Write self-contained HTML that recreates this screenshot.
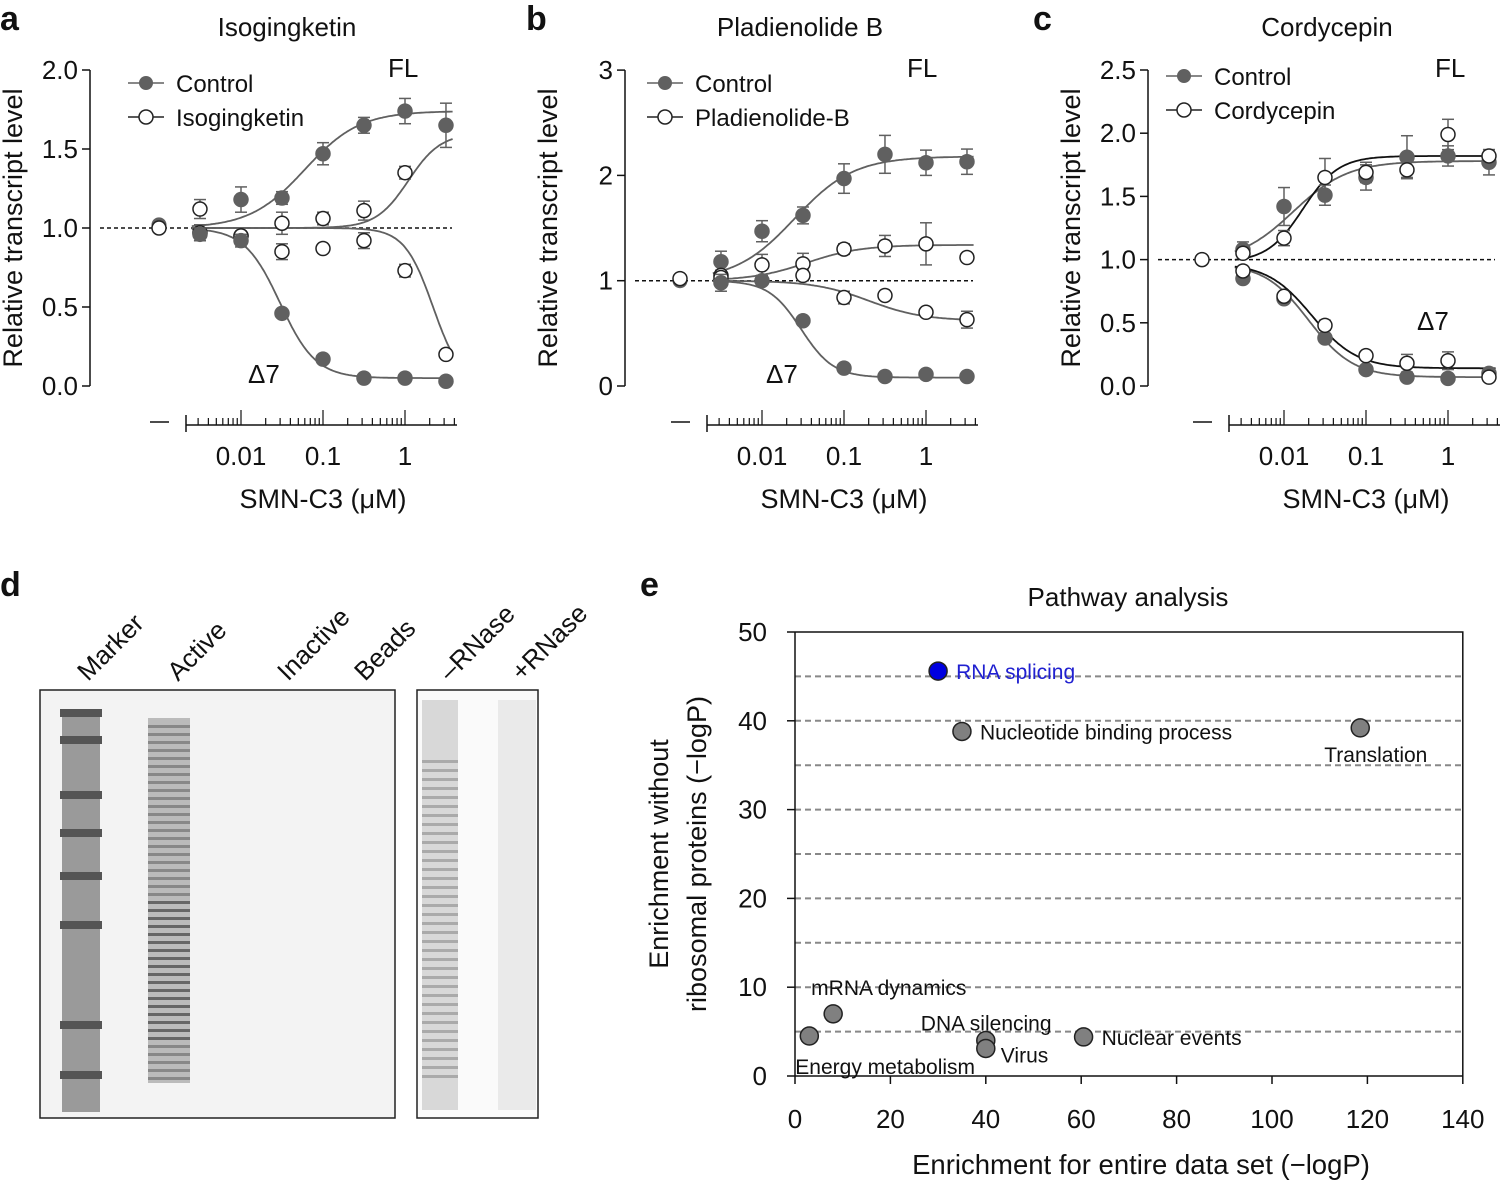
<!DOCTYPE html>
<html><head><meta charset="utf-8">
<style>
html,body{margin:0;padding:0;background:#fff;}
svg{display:block;font-family:"Liberation Sans",Arial,sans-serif;}
</style></head>
<body>
<svg id="fig" width="1500" height="1181" viewBox="0 0 1500 1181" xmlns="http://www.w3.org/2000/svg">
<g id="gel"></g>
</svg>
<script>
// ---------- DATA ----------
const doses = [0.00316, 0.01, 0.0316, 0.1, 0.316, 1, 3.16];
// Panel a
const aCtrlFL = [0.97, 1.18, 1.19, 1.47, 1.65, 1.74, 1.65];
const aCtrlFLerr = [0.05, 0.08, 0.04, 0.07, 0.05, 0.08, 0.14];
const aDrugFL = [1.12, 0.95, 1.03, 1.06, 1.11, 1.35, null];
const aDrugFLerr = [0.06, 0.03, 0.07, 0.04, 0.06, 0.04, 0];
const aDrugD7 = [0.97, 0.95, 0.85, 0.87, 0.92, 0.73, 0.2];
const aDrugD7err = [0.05, 0.02, 0.05, 0.02, 0.05, 0.04, 0];
const aCtrlD7 = [0.96, 0.92, 0.46, 0.17, 0.05, 0.05, 0.03];
const aCtrlD7err = [0.04, 0.04, 0.02, 0.02, 0.01, 0.01, 0.01];
const aBase = [1.02, 1.0];
// Panel b
const bCtrlFL = [1.18, 1.47, 1.62, 1.97, 2.2, 2.12, 2.13];
const bCtrlFLerr = [0.1, 0.1, 0.08, 0.14, 0.18, 0.12, 0.12];
const bDrugFL = [1.05, 1.15, 1.16, 1.3, 1.33, 1.35, 1.22];
const bDrugFLerr = [0.05, 0.1, 0.1, 0.05, 0.1, 0.2, 0.04];
const bDrugD7 = [1.03, null, 1.05, 0.84, 0.86, 0.7, 0.63];
const bDrugD7err = [0.03, 0, 0.05, 0.06, 0.03, 0.03, 0.08];
const bCtrlD7 = [0.98, 1.0, 0.62, 0.17, 0.09, 0.11, 0.09];
const bCtrlD7err = [0.08, 0.03, 0.02, 0.02, 0.02, 0.02, 0.02];
const bBase = [1.0, 1.02];
// Panel c
const cCtrlFL = [1.08, 1.42, 1.51, 1.65, 1.81, 1.82, 1.77];
const cCtrlFLerr = [0.06, 0.15, 0.08, 0.1, 0.17, 0.08, 0.1];
const cDrugFL = [1.05, 1.17, 1.65, 1.69, 1.71, 1.99, 1.82];
const cDrugFLerr = [0.04, 0.06, 0.15, 0.08, 0.06, 0.12, 0.05];
const cCtrlD7 = [0.85, 0.69, 0.38, 0.13, 0.07, 0.06, 0.1];
const cCtrlD7err = [0.02, 0.02, 0.02, 0.02, 0.02, 0.02, 0.03];
const cDrugD7 = [0.91, 0.71, 0.48, 0.24, 0.18, 0.2, 0.07];
const cDrugD7err = [0.03, 0.02, 0.04, 0.03, 0.07, 0.07, 0.03];
const cBase = [1.0, 1.0];
// Panel e
const pathNames = ["RNA splicing","Nucleotide binding process","Translation","mRNA dynamics","Energy metabolism","DNA silencing","Virus","Nuclear events"];
const pathX = [30, 35, 118.5, 8, 3, 40, 40, 60.5];
const pathY = [45.6, 38.8, 39.2, 7, 4.5, 4, 3.1, 4.4];
const eXTicks = [0,20,40,60,80,100,120,140];
const eYTicks = [0,10,20,30,40,50];
const eGrid = [5,10,15,20,25,30,35,40,45];

// ---------- HELPERS ----------
const NS = "http://www.w3.org/2000/svg";
const svg = document.getElementById('fig');
function mk(tag, attrs, parent, name){
  const e = document.createElementNS(NS, tag);
  for (const k in attrs) e.setAttribute(k, attrs[k]);
  
  
  (parent||svg).appendChild(e);
  return e;
}
function txt(x,y,s,size,parent,name,extra){
  const a = Object.assign({x:x,y:y,'font-size':size,fill:'#111'}, extra||{});
  const t = mk('text', a, parent, name);
  t.textContent = s;
  return t;
}
const GRAY = '#606060';
function hill(x, b, t, ec, h){ return b + (t-b)/(1+Math.pow(ec/x, h)); }

function panel(cfg){
  const g = mk('g', {}, svg, cfg.name);
  const X = v => cfg.x01 + (Math.log10(v)+2)*82;
  const Y = v => cfg.y0 - v*cfg.ppu;
  mk('line',{x1:cfg.yax,y1:Y(cfg.ymax),x2:cfg.yax,y2:Y(0),stroke:'#111','stroke-width':1.5},g,'y-axis');
  cfg.yticks.forEach((v,i)=>{
    mk('line',{x1:cfg.yax-8,y1:Y(v),x2:cfg.yax,y2:Y(v),stroke:'#111','stroke-width':1.5},g,'y-tick');
    txt(cfg.yax-12,Y(v)+9,cfg.ylabels[i],26,g,'y-tick-label',{'text-anchor':'end'});
  });
  txt(0,0,'Relative transcript level',27,g,'y-axis-title',{'text-anchor':'middle',transform:`translate(${cfg.yax-68},228) rotate(-90)`});
  const xa0 = cfg.x01-55, xa1 = cfg.x01+216;
  mk('line',{x1:xa0,y1:425,x2:xa1,y2:425,stroke:'#111','stroke-width':1.5},g,'x-axis');
  mk('line',{x1:xa0,y1:415,x2:xa0,y2:432,stroke:'#111','stroke-width':1.5},g,'x-axis-start');
  mk('line',{x1:cfg.x01-91,y1:422,x2:cfg.x01-72,y2:422,stroke:'#111','stroke-width':1.5},g,'control-dose-mark');
  for (let d=-3; d<=0; d++){
    for (let m=1; m<10; m++){
      const v = m*Math.pow(10,d); const px = X(v);
      if (px<xa0||px>xa1) continue;
      const major = (m===1 && d>=-2);
      mk('line',{x1:px,y1:425,x2:px,y2:major?410:418,stroke:'#111','stroke-width':1.2},g,major?'x-major-tick':'x-minor-tick');
    }
  }
  [['0.01',0.01],['0.1',0.1],['1',1]].forEach(p=>txt(X(p[1]),465,p[0],26,g,'x-tick-label',{'text-anchor':'middle'}));
  txt(X(0.1),508,'SMN-C3 (\u03bcM)',27,g,'x-axis-title',{'text-anchor':'middle'});
  mk('line',{x1:cfg.yax+10,y1:Y(1),x2:xa1-5,y2:Y(1),stroke:'#111','stroke-width':1.5,'stroke-dasharray':'4,3'},g,'baseline-dashed');
  cfg.curves.forEach(c=>{
    let d='';
    for (let l=-2.6; l<=0.6; l+=0.02){ const v=Math.pow(10,l); d += (d?'L':'M')+X(v).toFixed(1)+','+Y(hill(v,c[0],c[1],c[2],c[3])).toFixed(1); }
    mk('path',{d:d,fill:'none',stroke:c[4],'stroke-width':1.8},g,'fit-curve');
  });
  const bx = cfg.x01-82;
  cfg.series.forEach(s=>{
    s.vals.forEach((v,i)=>{
      if (v===null) return;
      const px = X(doses[i]), py = Y(v), e = s.err[i]*cfg.ppu;
      if (e>3){
        mk('line',{x1:px,y1:py-e,x2:px,y2:py+e,stroke:GRAY,'stroke-width':1.5},g,'error-bar');
        mk('line',{x1:px-6,y1:py-e,x2:px+6,y2:py-e,stroke:GRAY,'stroke-width':1.5},g,'error-cap');
        mk('line',{x1:px-6,y1:py+e,x2:px+6,y2:py+e,stroke:GRAY,'stroke-width':1.5},g,'error-cap');
      }
      mk('circle',{cx:px,cy:py,r:7,fill:s.filled?GRAY:'#fff',stroke:s.filled?GRAY:'#222','stroke-width':1.5},g,s.name);
    });
  });
  mk('circle',{cx:bx,cy:Y(cfg.base[0]),r:7,fill:GRAY,stroke:GRAY},g,'control-baseline-point');
  mk('circle',{cx:bx,cy:Y(cfg.base[1]),r:7,fill:'#fff',stroke:'#222','stroke-width':1.5},g,'drug-baseline-point');
  const lx = cfg.legx, ly = cfg.legy;
  mk('line',{x1:lx,y1:ly,x2:lx+36,y2:ly,stroke:GRAY,'stroke-width':1.5},g,'legend-line-control');
  mk('circle',{cx:lx+18,cy:ly,r:7,fill:GRAY},g,'legend-marker-control');
  txt(lx+48,ly+9,'Control',24,g,'legend-label-control');
  mk('line',{x1:lx,y1:ly+34,x2:lx+36,y2:ly+34,stroke:'#222','stroke-width':1.5},g,'legend-line-drug');
  mk('circle',{cx:lx+18,cy:ly+34,r:7,fill:'#fff',stroke:'#222','stroke-width':1.5},g,'legend-marker-drug');
  txt(lx+48,ly+43,cfg.drug,24,g,'legend-label-drug');
  txt(cfg.flx,77,'FL',26,g,'fl-label');
  txt(cfg.d7x,cfg.d7y,'\u03947',26,g,'delta7-label');
  txt(cfg.titlex,36,cfg.title,26,g,'panel-title',{'text-anchor':'middle'});
  txt(cfg.letx,30,cfg.letter,34,g,'panel-letter',{'font-weight':'bold'});
}

panel({name:'panel-a',letter:'a',letx:0,title:'Isogingketin',titlex:287,drug:'Isogingketin',x01:241,yax:90,y0:386,ppu:158,ymax:2,
  yticks:[0,0.5,1,1.5,2],ylabels:['0.0','0.5','1.0','1.5','2.0'],base:aBase,legx:128,legy:83,flx:388,d7x:248,d7y:383,
  curves:[[1,1.74,0.06,1.3,GRAY],[1,1.6,1.1,2.2,GRAY],[1,0,2.2,2.5,GRAY],[1,0.05,0.03,2,GRAY]],
  series:[{name:'control-fl-point',vals:aCtrlFL,err:aCtrlFLerr,filled:true},{name:'isogingketin-fl-point',vals:aDrugFL,err:aDrugFLerr,filled:false},
          {name:'isogingketin-d7-point',vals:aDrugD7,err:aDrugD7err,filled:false},{name:'control-d7-point',vals:aCtrlD7,err:aCtrlD7err,filled:true}]});
panel({name:'panel-b',letter:'b',letx:526,title:'Pladienolide B',titlex:800,drug:'Pladienolide-B',x01:762,yax:625,y0:386,ppu:105.3,ymax:3,
  yticks:[0,1,2,3],ylabels:['0','1','2','3'],base:bBase,legx:647,legy:83,flx:907,d7x:766,d7y:383,
  curves:[[1,2.18,0.025,1.2,GRAY],[1,1.34,0.035,1.3,GRAY],[1,0.62,0.2,1.3,GRAY],[1,0.08,0.03,2.2,GRAY]],
  series:[{name:'control-fl-point',vals:bCtrlFL,err:bCtrlFLerr,filled:true},{name:'pladienolide-fl-point',vals:bDrugFL,err:bDrugFLerr,filled:false},
          {name:'pladienolide-d7-point',vals:bDrugD7,err:bDrugD7err,filled:false},{name:'control-d7-point',vals:bCtrlD7,err:bCtrlD7err,filled:true}]});
panel({name:'panel-c',letter:'c',letx:1033,title:'Cordycepin',titlex:1327,drug:'Cordycepin',x01:1284,yax:1148,y0:386,ppu:126.4,ymax:2.5,
  yticks:[0,0.5,1,1.5,2,2.5],ylabels:['0.0','0.5','1.0','1.5','2.0','2.5'],base:cBase,legx:1166,legy:76,flx:1435,d7x:1417,d7y:330,
  curves:[[0.98,1.78,0.013,1.3,GRAY],[0.98,1.82,0.017,2,'#111'],[0.97,0.07,0.02,1.6,GRAY],[0.97,0.14,0.022,1.6,'#111']],
  series:[{name:'control-fl-point',vals:cCtrlFL,err:cCtrlFLerr,filled:true},{name:'cordycepin-fl-point',vals:cDrugFL,err:cDrugFLerr,filled:false},
          {name:'control-d7-point',vals:cCtrlD7,err:cCtrlD7err,filled:true},{name:'cordycepin-d7-point',vals:cDrugD7,err:cDrugD7err,filled:false}]});

// ---------- PANEL D (gel) ----------
const gel = document.getElementById('gel');
txt(0,596,'d',34,gel,'panel-letter',{'font-weight':'bold'});
[['Marker',88],['Active',178],['Inactive',288],['Beads',365],['\u2013RNase',450],['+RNase',522]].forEach(l=>{
  txt(0,0,l[0],26,gel,'lane-label',{transform:`translate(${l[1]},682) rotate(-45)`});
});
mk('rect',{x:40,y:690,width:355,height:428,fill:'#f3f3f3',stroke:'#222','stroke-width':1.5},gel,'gel-box-left');
mk('rect',{x:417,y:690,width:121,height:428,fill:'#fafafa',stroke:'#222','stroke-width':1.5},gel,'gel-box-right');
mk('rect',{x:62,y:712,width:38,height:400,fill:'#9a9a9a'},gel,'marker-lane');
[713,740,795,833,876,925,1025,1075].forEach(y=>mk('rect',{x:60,y:y-4,width:42,height:8,fill:'#555'},gel,'marker-band'));
mk('rect',{x:148,y:718,width:42,height:365,fill:'#bbb'},gel,'active-lane');
for(let y=725;y<1080;y+=8){ mk('rect',{x:148,y:y,width:42,height:3,fill:(y>900&&y<1040)?'#666':'#888'},gel,'active-band'); }
mk('rect',{x:422,y:700,width:36,height:410,fill:'#d8d8d8'},gel,'minus-rnase-lane');
for(let y=760;y<1080;y+=9){ mk('rect',{x:422,y:y,width:36,height:3,fill:'#aaa'},gel,'minus-rnase-band'); }
mk('rect',{x:498,y:700,width:38,height:410,fill:'#eaeaea'},gel,'plus-rnase-lane');

// ---------- PANEL E ----------
const ge = mk('g',{},svg,'panel-e');
const EX = v => 795 + v*4.77;
const EY = v => 1076 - v*8.88;
txt(640,596,'e',34,ge,'panel-letter',{'font-weight':'bold'});
txt(1128,606,'Pathway analysis',26,ge,'chart-title',{'text-anchor':'middle'});
eGrid.forEach(v=>mk('line',{x1:EX(0),y1:EY(v),x2:EX(140),y2:EY(v),stroke:'#888','stroke-width':2,'stroke-dasharray':'6,4'},ge,'grid-line'));
mk('path',{d:`M${EX(0)},${EY(50)}H${EX(140)}V${EY(0)}`,fill:'none',stroke:'#111','stroke-width':1.5},ge,'plot-frame');
mk('line',{x1:EX(0),y1:EY(50),x2:EX(0),y2:EY(0),stroke:'#111','stroke-width':1.5},ge,'y-axis');
mk('line',{x1:EX(0),y1:EY(0),x2:EX(140),y2:EY(0),stroke:'#111','stroke-width':1.5},ge,'x-axis');
eXTicks.forEach(v=>{
  mk('line',{x1:EX(v),y1:EY(0),x2:EX(v),y2:EY(0)+8,stroke:'#111','stroke-width':1.5},ge,'x-tick');
  txt(EX(v),EY(0)+52,String(v),26,ge,'x-tick-label',{'text-anchor':'middle'});
});
eYTicks.forEach(v=>{
  mk('line',{x1:EX(0)-8,y1:EY(v),x2:EX(0),y2:EY(v),stroke:'#111','stroke-width':1.5},ge,'y-tick');
  txt(EX(0)-28,EY(v)+9,String(v),26,ge,'y-tick-label',{'text-anchor':'end'});
});
txt(1141,1174,'Enrichment for entire data set (\u2212logP)',27.5,ge,'x-axis-title',{'text-anchor':'middle'});
txt(0,0,'Enrichment without',27,ge,'y-axis-title-line1',{'text-anchor':'middle',transform:'translate(668,854) rotate(-90)'});
txt(0,0,'ribosomal proteins (\u2212logP)',27,ge,'y-axis-title-line2',{'text-anchor':'middle',transform:'translate(706,854) rotate(-90)'});
const labOff = [[18,8],[18,8],[-36,34],[-22,-19],[-14,38],[-65,-10],[15,14],[18,8]];
pathX.forEach((v,i)=>{
  const blue = i===0;
  mk('circle',{cx:EX(v),cy:EY(pathY[i]),r:9,fill:blue?'#0000e0':'#808080',stroke:'#222','stroke-width':1.5},ge,'pathway-point');
  txt(EX(v)+labOff[i][0],EY(pathY[i])+labOff[i][1],pathNames[i],21,ge,'pathway-label',{fill:blue?'#2020d0':'#111'});
});
</script>
</body></html>
